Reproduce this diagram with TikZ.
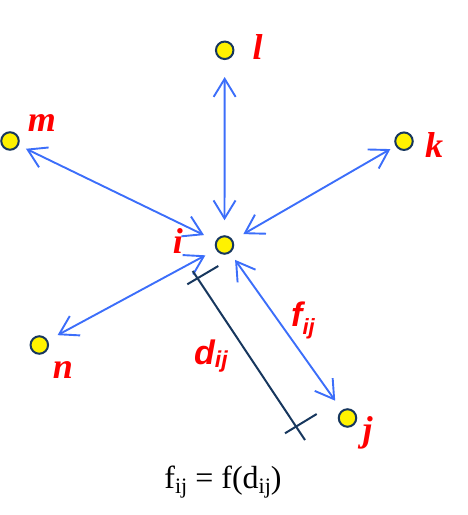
\documentclass[tikz,border=0pt]{standalone}
\usepackage{fontspec}
\setmainfont{Liberation Serif}
\newfontfamily\lsans{Liberation Sans}
\usetikzlibrary{arrows.meta}
\definecolor{arrblue}{RGB}{60,110,250}
\definecolor{navy}{RGB}{23,55,94}
\definecolor{lblred}{RGB}{255,0,0}
\tikzset{
  pt/.style={circle, fill=yellow, draw=navy, line width=2pt, minimum size=17.5pt, inner sep=0pt, outer sep=0pt},
  lbl/.style={text=lblred, font=\fontsize{36}{36}\selectfont\bfseries\itshape, inner sep=0pt, anchor=base},
  sym/.style={text=lblred, font=\lsans\fontsize{34}{34}\selectfont\bfseries\itshape, inner sep=0pt, anchor=base west},
  force/.style={draw=arrblue, line width=1.9pt, {Straight Barb[length=18pt,width=22pt]}-{Straight Barb[length=18pt,width=22pt]}},
  dimline/.style={draw=navy, line width=2pt},
  caption/.style={font=\fontsize{32}{32}\selectfont, inner sep=0pt, anchor=base}
}
\begin{document}
\begin{tikzpicture}[x=1pt,y=-1pt]
\useasboundingbox (0,0) rectangle (468,515);
% points
\node[pt] (i) at (224.5,245) {};
\node[pt] (l) at (224.7,50.3) {};
\node[pt] (m) at (10,141) {};
\node[pt] (k) at (404,141.2) {};
\node[pt] (n) at (39.3,345) {};
\node[pt] (j) at (347.5,418) {};
% forces
\draw[force, shorten <=16pt, shorten >=18pt] (i) -- (l);
\draw[force, shorten <=14pt, shorten >=9pt] (i) -- (m);
\draw[force, shorten <=13pt, shorten >=7pt] (i) -- (k);
\draw[force, shorten <=13pt, shorten >=12pt] (i) -- (n);
\draw[force, shorten <=9.5pt, shorten >=12.5pt] (i) -- (j);
% distance marker
\coordinate (d1) at (192.7,271);
\coordinate (d2) at (305,440);
\coordinate (t1a) at (187.3,284.3);
\coordinate (t1b) at (218.3,266);
\coordinate (t2a) at (285,433.3);
\coordinate (t2b) at (316.7,414);
\draw[dimline] (d1) -- (d2);
\draw[dimline] (t1a) -- (t1b);
\draw[dimline] (t2a) -- (t2b);
% labels
\node[lbl] (Ll) at (257.5,59.5) {l};
\node[lbl] (Lm) at (42,131) {m};
\node[lbl] (Lk) at (434,157) {k};
\node[lbl] (Li) at (178,253) {i};
\node[lbl] (Ln) at (63,378) {n};
\node[lbl] (Lj) at (367.5,441) {j};
\node[sym] (dij) at (194,364) {d\raisebox{-3pt}{\fontsize{23}{23}\selectfont ij}};
\node[sym] (fij) at (291,326) {f\raisebox{-8pt}{\fontsize{22}{22}\selectfont ij}};
\node[caption] (cap) at (223,488) {f\raisebox{-5pt}{\fontsize{22}{22}\selectfont ij} = f(d\raisebox{-5pt}{\fontsize{22}{22}\selectfont ij})};
\end{tikzpicture}
\end{document}
